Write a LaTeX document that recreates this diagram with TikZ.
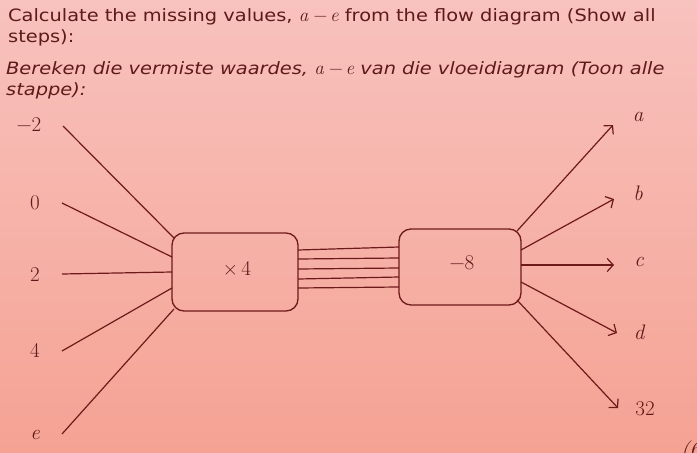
\documentclass[tikz,border=0pt]{standalone}
\usepackage{fontspec}
\usetikzlibrary{arrows.meta}
\newfontfamily\titlefont[FakeStretch=1.14]{DejaVu Sans}
\newfontfamily\valfont{Latin Modern Roman}
\newcommand\varrange{{\valfont\fontsize{19}{20}\selectfont\itshape a\/\kern5pt\upshape−\kern3pt\itshape e}}
\definecolor{bgtop}{HTML}{F8C2BE}
\definecolor{bgbot}{HTML}{F5A293}
\definecolor{ink}{HTML}{5E1A1A}
\definecolor{linecol}{HTML}{6E1A1A}
\tikzset{
  title/.style={anchor=base west, inner sep=0pt, text=ink, font=\titlefont\fontsize{17}{20}\selectfont},
  val/.style={inner sep=0pt, text=ink, font=\valfont\fontsize{21}{24}\selectfont},
  opbox/.style={draw=linecol, line width=1.3pt, rounded corners=12pt, inner sep=0pt},
  wire/.style={draw=linecol, line width=1.2pt},
  arr/.style={wire, -{Straight Barb[length=6pt,width=13pt,line width=1.2pt]}}
}
\begin{document}
\begin{tikzpicture}[x=1pt,y=-1pt]
\shade[top color=bgtop, bottom color=bgbot] (0,0) rectangle (697,453);
\useasboundingbox (0,0) rectangle (697,453);
% titles
\node[title] (t1) at (8,21) {Calculate the missing values, \varrange{} from the flow diagram (Show all};
\node[title] (t2) at (8,42) {steps):};
\node[title] (t3) at (6,74) {\itshape Bereken die vermiste waardes, \varrange{} van die vloeidiagram (Toon alle};
\node[title] (t4) at (6,95) {\itshape stappe):};
% boxes
\node[opbox, minimum width=126pt, minimum height=78pt] (b1) at (235,272) {};
\node[val] (op1) at (237,268) {×\,4};
\node[opbox, minimum width=122pt, minimum height=76pt] (b2) at (460,267) {};
\node[val] (op2) at (462,263) {−8};
% inputs
\node[val] (im2) at (29,125) {−2};
\node[val] (i0) at (35,203) {0};
\node[val] (i2) at (35,275) {2};
\node[val] (i4) at (35,350) {4};
\node[val] (ie) at (35,435) {\itshape e};
\coordinate (sm2) at (63,126);
\coordinate (s0) at (62,203);
\coordinate (s2) at (62,274);
\coordinate (s4) at (62,351);
\coordinate (se) at (62,434);
\coordinate (em2) at (174,238);
\coordinate (e0) at (172,257);
\coordinate (e2) at (172,272);
\coordinate (e4) at (172,288);
\coordinate (ee) at (174,309);
\draw[wire] (sm2) -- (em2);
\draw[wire] (s0) -- (e0);
\draw[wire] (s2) -- (e2);
\draw[wire] (s4) -- (e4);
\draw[wire] (se) -- (ee);
% links between boxes
\foreach \yl/\yr [count=\k] in {250/247,259/258,269/268,279/277,288/287}{
  \coordinate (l\k) at (298,\yl);
  \coordinate (r\k) at (399,\yr);
  \draw[wire] (l\k) -- (r\k);
}
% outputs
\node[val] (oa) at (638,117) {\itshape a};
\node[val] (ob) at (638,193) {\itshape b};
\node[val] (oc) at (639,262) {\itshape c};
\node[val] (od) at (639,332) {\itshape d};
\node[val] (o32) at (645,409) {32};
\coordinate (ta) at (613,125);
\coordinate (tb) at (614,199);
\coordinate (tc) at (614,265);
\coordinate (td) at (617,333);
\coordinate (t32) at (618,408);
\coordinate (fa) at (517,231);
\coordinate (fb) at (521,250);
\coordinate (fc) at (521,265);
\coordinate (fd) at (521,282);
\coordinate (f32) at (517,300);
\draw[arr] (fa) -- (ta);
\draw[arr] (fb) -- (tb);
\draw[arr] (fc) -- (tc);
\draw[arr] (fd) -- (td);
\draw[arr] (f32) -- (t32);
\node[val, anchor=base west] (mark) at (681,456) {\itshape (6)};
\end{tikzpicture}
\end{document}
